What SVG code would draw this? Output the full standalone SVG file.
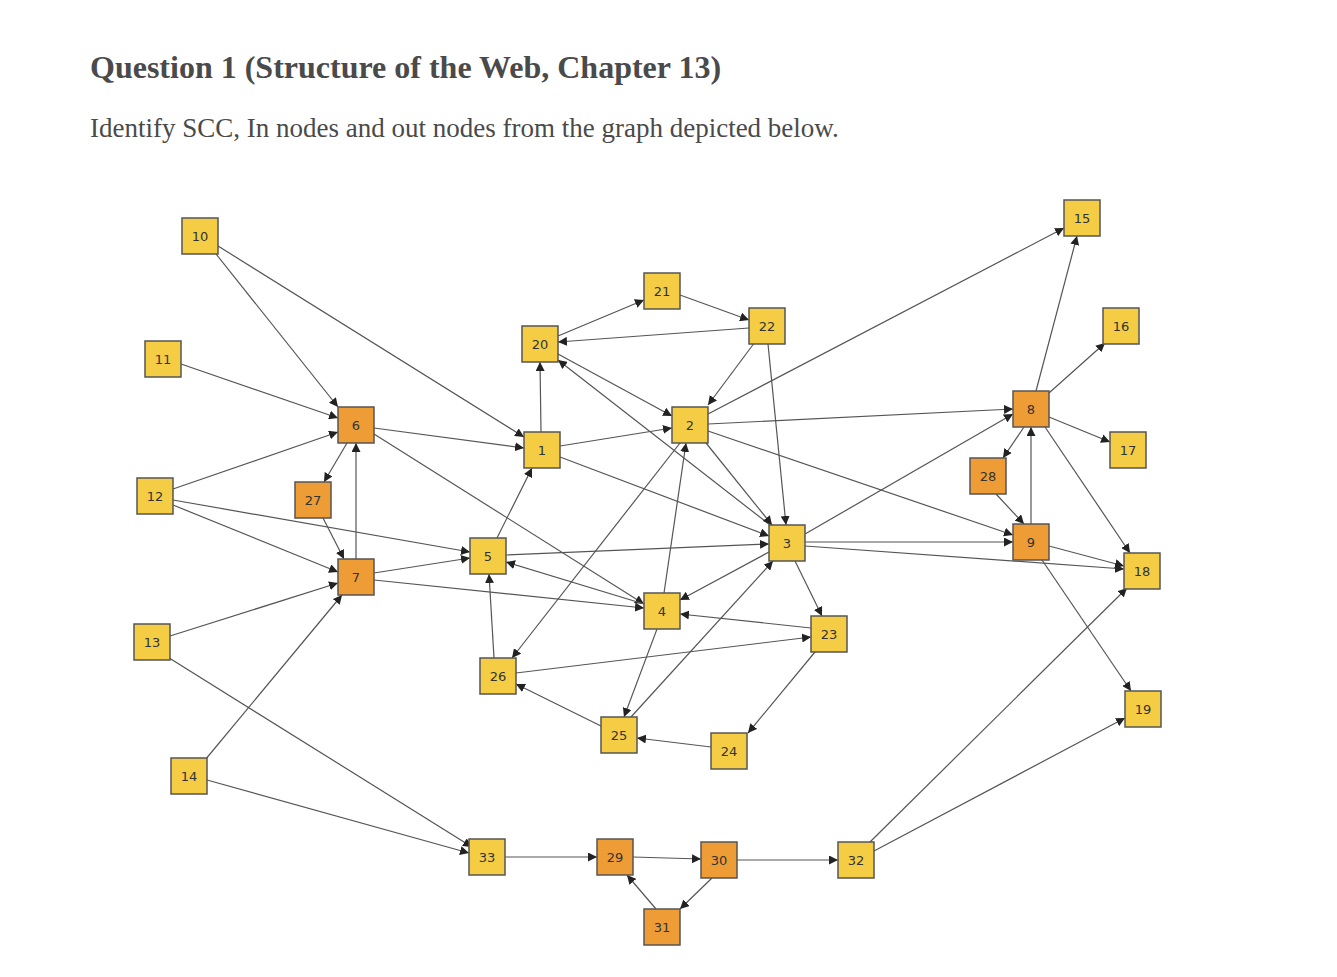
<svg xmlns="http://www.w3.org/2000/svg" width="1337" height="977" viewBox="0 0 1337 977">
<style>
.t{font-family:"Liberation Serif",serif;fill:#4a4a4a}
.n rect{stroke:#555;stroke-width:1.5}
.y rect{fill:#f4cd45}.o rect{fill:#ee9c36}
.n text{font-family:"DejaVu Sans",sans-serif;font-size:13px;fill:#333;text-anchor:middle;dominant-baseline:central}
#edges line{stroke:#555;stroke-width:1.2;marker-end:url(#a)}
</style>
<defs><marker id="a" viewBox="0 0 10 10" refX="10" refY="5" markerWidth="9" markerHeight="9" markerUnits="userSpaceOnUse" orient="auto"><path d="M0,0L10,5L0,10z" fill="#222"/></marker></defs>
<rect width="1337" height="977" fill="#fff"/>
<text class="t" x="90" y="78" font-size="32" font-weight="bold">Question 1 (Structure of the Web, Chapter 13)</text>
<text class="t" x="90" y="137" font-size="27">Identify SCC, In nodes and out nodes from the graph depicted below.</text>
<g id="edges">
<line x1="216" y1="254" x2="338" y2="407"/>
<line x1="218" y1="246" x2="524" y2="437"/>
<line x1="181" y1="364" x2="338" y2="418"/>
<line x1="173" y1="489" x2="338" y2="432"/>
<line x1="173" y1="500" x2="470" y2="552"/>
<line x1="173" y1="505" x2="338" y2="572"/>
<line x1="374" y1="428" x2="524" y2="448"/>
<line x1="347" y1="443" x2="324" y2="482"/>
<line x1="374" y1="434" x2="644" y2="604"/>
<line x1="356" y1="559" x2="356" y2="443"/>
<line x1="323" y1="518" x2="344" y2="559"/>
<line x1="374" y1="573" x2="470" y2="558"/>
<line x1="374" y1="580" x2="644" y2="608"/>
<line x1="170" y1="636" x2="338" y2="583"/>
<line x1="205" y1="760" x2="342" y2="595"/>
<line x1="166" y1="656" x2="472" y2="847"/>
<line x1="207" y1="780" x2="469" y2="853"/>
<line x1="497" y1="538" x2="532" y2="468"/>
<line x1="541" y1="432" x2="540" y2="362"/>
<line x1="560" y1="446" x2="672" y2="428"/>
<line x1="560" y1="457" x2="769" y2="536"/>
<line x1="506" y1="555" x2="769" y2="544"/>
<line x1="644" y1="604" x2="506" y2="562"/>
<line x1="494" y1="658" x2="489" y2="574"/>
<line x1="558" y1="336" x2="644" y2="300"/>
<line x1="680" y1="295" x2="749" y2="320"/>
<line x1="749" y1="328" x2="558" y2="342"/>
<line x1="558" y1="354" x2="672" y2="416"/>
<line x1="770" y1="525" x2="558" y2="360"/>
<line x1="755" y1="342" x2="708" y2="405"/>
<line x1="768" y1="344" x2="786" y2="525"/>
<line x1="706" y1="443" x2="772" y2="525"/>
<line x1="708" y1="414" x2="1064" y2="228"/>
<line x1="708" y1="424" x2="1013" y2="409"/>
<line x1="708" y1="431" x2="1013" y2="535"/>
<line x1="680" y1="443" x2="512" y2="658"/>
<line x1="664" y1="593" x2="686" y2="443"/>
<line x1="769" y1="552" x2="680" y2="600"/>
<line x1="795" y1="561" x2="822" y2="616"/>
<line x1="631" y1="717" x2="773" y2="561"/>
<line x1="516" y1="673" x2="811" y2="637"/>
<line x1="811" y1="628" x2="680" y2="614"/>
<line x1="657" y1="629" x2="624" y2="717"/>
<line x1="815" y1="652" x2="748" y2="733"/>
<line x1="711" y1="747" x2="637" y2="738"/>
<line x1="603" y1="727" x2="516" y2="684"/>
<line x1="805" y1="534" x2="1013" y2="414"/>
<line x1="805" y1="542" x2="1013" y2="542"/>
<line x1="805" y1="546" x2="1124" y2="569"/>
<line x1="996" y1="494" x2="1024" y2="524"/>
<line x1="1024" y1="427" x2="1003" y2="458"/>
<line x1="1031" y1="524" x2="1031" y2="427"/>
<line x1="1036" y1="391" x2="1077" y2="236"/>
<line x1="1049" y1="393" x2="1105" y2="343"/>
<line x1="1049" y1="417" x2="1110" y2="442"/>
<line x1="1045" y1="427" x2="1130" y2="553"/>
<line x1="1049" y1="546" x2="1124" y2="566"/>
<line x1="1042" y1="560" x2="1131" y2="691"/>
<line x1="870" y1="842" x2="1127" y2="588"/>
<line x1="874" y1="851" x2="1125" y2="718"/>
<line x1="505" y1="857" x2="597" y2="857"/>
<line x1="633" y1="857" x2="701" y2="859"/>
<line x1="737" y1="860" x2="838" y2="860"/>
<line x1="712" y1="878" x2="680" y2="909"/>
<line x1="656" y1="909" x2="627" y2="875"/>
</g>
<g id="n10" class="n y"><rect x="182" y="218" width="36" height="36"/><text x="200" y="236">10</text></g>
<g id="n11" class="n y"><rect x="145" y="341" width="36" height="36"/><text x="163" y="359">11</text></g>
<g id="n12" class="n y"><rect x="137" y="478" width="36" height="36"/><text x="155" y="496">12</text></g>
<g id="n13" class="n y"><rect x="134" y="624" width="36" height="36"/><text x="152" y="642">13</text></g>
<g id="n14" class="n y"><rect x="171" y="758" width="36" height="36"/><text x="189" y="776">14</text></g>
<g id="n6" class="n o"><rect x="338" y="407" width="36" height="36"/><text x="356" y="425">6</text></g>
<g id="n27" class="n o"><rect x="295" y="482" width="36" height="36"/><text x="313" y="500">27</text></g>
<g id="n7" class="n o"><rect x="338" y="559" width="36" height="36"/><text x="356" y="577">7</text></g>
<g id="n5" class="n y"><rect x="470" y="538" width="36" height="36"/><text x="488" y="556">5</text></g>
<g id="n1" class="n y"><rect x="524" y="432" width="36" height="36"/><text x="542" y="450">1</text></g>
<g id="n20" class="n y"><rect x="522" y="326" width="36" height="36"/><text x="540" y="344">20</text></g>
<g id="n21" class="n y"><rect x="644" y="273" width="36" height="36"/><text x="662" y="291">21</text></g>
<g id="n22" class="n y"><rect x="749" y="308" width="36" height="36"/><text x="767" y="326">22</text></g>
<g id="n2" class="n y"><rect x="672" y="407" width="36" height="36"/><text x="690" y="425">2</text></g>
<g id="n3" class="n y"><rect x="769" y="525" width="36" height="36"/><text x="787" y="543">3</text></g>
<g id="n4" class="n y"><rect x="644" y="593" width="36" height="36"/><text x="662" y="611">4</text></g>
<g id="n23" class="n y"><rect x="811" y="616" width="36" height="36"/><text x="829" y="634">23</text></g>
<g id="n26" class="n y"><rect x="480" y="658" width="36" height="36"/><text x="498" y="676">26</text></g>
<g id="n25" class="n y"><rect x="601" y="717" width="36" height="36"/><text x="619" y="735">25</text></g>
<g id="n24" class="n y"><rect x="711" y="733" width="36" height="36"/><text x="729" y="751">24</text></g>
<g id="n33" class="n y"><rect x="469" y="839" width="36" height="36"/><text x="487" y="857">33</text></g>
<g id="n29" class="n o"><rect x="597" y="839" width="36" height="36"/><text x="615" y="857">29</text></g>
<g id="n30" class="n o"><rect x="701" y="842" width="36" height="36"/><text x="719" y="860">30</text></g>
<g id="n31" class="n o"><rect x="644" y="909" width="36" height="36"/><text x="662" y="927">31</text></g>
<g id="n32" class="n y"><rect x="838" y="842" width="36" height="36"/><text x="856" y="860">32</text></g>
<g id="n15" class="n y"><rect x="1064" y="200" width="36" height="36"/><text x="1082" y="218">15</text></g>
<g id="n16" class="n y"><rect x="1103" y="308" width="36" height="36"/><text x="1121" y="326">16</text></g>
<g id="n8" class="n o"><rect x="1013" y="391" width="36" height="36"/><text x="1031" y="409">8</text></g>
<g id="n17" class="n y"><rect x="1110" y="432" width="36" height="36"/><text x="1128" y="450">17</text></g>
<g id="n28" class="n o"><rect x="970" y="458" width="36" height="36"/><text x="988" y="476">28</text></g>
<g id="n9" class="n o"><rect x="1013" y="524" width="36" height="36"/><text x="1031" y="542">9</text></g>
<g id="n18" class="n y"><rect x="1124" y="553" width="36" height="36"/><text x="1142" y="571">18</text></g>
<g id="n19" class="n y"><rect x="1125" y="691" width="36" height="36"/><text x="1143" y="709">19</text></g>
</svg>
